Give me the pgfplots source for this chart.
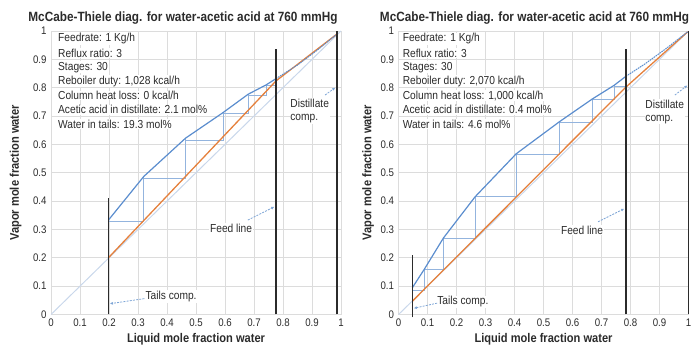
\documentclass[border=0pt]{standalone}
\usepackage{pgfplots}
\pgfplotsset{compat=1.18}
\usetikzlibrary{arrows.meta}
\usepackage{fontspec}
\setmainfont{Liberation Sans}[FakeStretch=0.88]
\definecolor{gridc}{HTML}{DCDCDC}
\definecolor{orangeop}{HTML}{E5803C}
\definecolor{eqblue}{HTML}{5B8DCE}
\definecolor{stepblue}{HTML}{93B4DE}
\definecolor{diagc}{HTML}{C9D7EB}
\definecolor{arrowc}{HTML}{7FA6D6}
\definecolor{blk}{HTML}{2B2B2B}
\pgfplotsset{
  mt/.style={
    scale only axis, width=290pt, height=283.5pt,
    xmin=0, xmax=1, ymin=0, ymax=1,
    xtick={0,0.1,...,1.01}, ytick={0,0.1,...,1.01},
    xticklabels={0,0.1,0.2,0.3,0.4,0.5,0.6,0.7,0.8,0.9,1},
    yticklabels={0,0.1,0.2,0.3,0.4,0.5,0.6,0.7,0.8,0.9,1},
    grid=major, major grid style={gridc, line width=0.7pt},
    axis line style={gridc, line width=0.7pt},
    major tick length=0pt,
    /pgf/number format/assume math mode=true,
    tick label style={font=\fontsize{11}{12}\selectfont, text=blk},
    xticklabel style={yshift=-1pt},
    yticklabel style={xshift=-1pt},
    label style={font=\fontsize{12.6}{14}\selectfont\bfseries, text=blk},
    xlabel={Liquid mole fraction water},
    ylabel={Vapor mole fraction water},
    xlabel style={at={(axis description cs:0.5,-0.087)}, anchor=center},
    title={McCabe-Thiele diag. for water-acetic acid at 760 mmHg},
    title style={font=\fontsize{13.4}{15}\selectfont\bfseries, text=blk, anchor=center},
    clip=false,
  },
}
\tikzset{
  ann/.style={anchor=west, fill=white, inner sep=0.6pt, font=\fontsize{11.6}{13}\selectfont, text=blk},
  lbl/.style={font=\fontsize{11.6}{13}\selectfont, text=blk, fill=white, inner sep=0.8pt},
  arr/.style={arrowc, line width=0.8pt, dash pattern=on 2pt off 1.2pt, -{Latex[length=3pt,width=3pt]}},
}
\begin{document}
\begin{tikzpicture}
\useasboundingbox (0,0) rectangle (700pt,352pt);
% ---------------- left chart ----------------
\begin{axis}[mt, at={(51pt,37.5pt)}, anchor=south west,
  ylabel style={at={(axis description cs:-0.122,0.5)}, anchor=center},
  title style={at={(axis description cs:0.455,1.024)}}]
\addplot[diagc, line width=1pt] coordinates {(0,0) (1,1)};
\addplot[stepblue, line width=0.9pt] coordinates {
 (0.198,0.327) (0.320,0.327) (0.320,0.487) (0.320,0.480) (0.464,0.480) (0.464,0.622)
 (0.464,0.615) (0.593,0.615) (0.593,0.712) (0.593,0.708) (0.680,0.708) (0.680,0.777)
 (0.680,0.773) (0.742,0.773) (0.742,0.810) (0.742,0.808) (0.776,0.808)};
\addplot[orangeop, line width=1.3pt] coordinates {(0.198,0.200) (0.776,0.824) (0.987,0.990)};
\addplot[eqblue, line width=1.2pt] coordinates {
 (0.198,0.333) (0.320,0.487) (0.464,0.622) (0.593,0.712) (0.680,0.777) (0.742,0.810) (0.776,0.832)};
\addplot[eqblue, line width=1.0pt, dash pattern=on 1.6pt off 0.8pt] coordinates {
 (0.776,0.832) (0.850,0.880) (0.920,0.934) (0.987,0.990)};
\addplot[blk, line width=1.6pt] coordinates {(0.198,0) (0.198,0.41)};
\addplot[blk, line width=1.6pt] coordinates {(0.776,0) (0.776,0.935)};
\addplot[blk, line width=1.6pt] coordinates {(0.987,0) (0.987,1.0)};
\node[ann] at (axis cs:0.022,0.972) {Feedrate: 1 Kg/h};
\node[ann] at (axis cs:0.022,0.922) {Reflux ratio: 3};
\node[ann] at (axis cs:0.022,0.872) {Stages: 30};
\node[ann] at (axis cs:0.022,0.822) {Reboiler duty: 1,028 kcal/h};
\node[ann] at (axis cs:0.022,0.772) {Column heat loss: 0 kcal/h};
\node[ann] at (axis cs:0.022,0.722) {Acetic acid in distillate: 2.1 mol\%};
\node[ann] at (axis cs:0.022,0.672) {Water in tails: 19.3 mol\%};
\node[lbl, anchor=west, align=left] at (axis cs:0.822,0.718) {Distillate\\comp.};
\draw[arr] (axis cs:0.945,0.774) -- (axis cs:0.980,0.800);
\node[lbl] at (axis cs:0.621,0.305) {Feed line};
\draw[arr] (axis cs:0.679,0.333) -- (axis cs:0.770,0.380);
\node[lbl] at (axis cs:0.414,0.063) {Tails comp.};
\draw[arr] (axis cs:0.322,0.056) -- (axis cs:0.203,0.038);
\end{axis}
% ---------------- right chart ----------------
\begin{axis}[mt, at={(398.5pt,37.5pt)}, anchor=south west,
  ylabel style={at={(axis description cs:-0.105,0.5)}, anchor=center},
  title style={at={(axis description cs:0.469,1.024)}}]
\addplot[diagc, line width=1pt] coordinates {(0,0) (1,1)};
\addplot[stepblue, line width=0.9pt] coordinates {
 (0.048,0.086) (0.088,0.086) (0.088,0.158) (0.155,0.158) (0.155,0.270) (0.264,0.270)
 (0.264,0.415) (0.406,0.415) (0.406,0.567) (0.406,0.565) (0.555,0.565) (0.555,0.680)
 (0.555,0.678) (0.668,0.678) (0.668,0.760) (0.668,0.757) (0.743,0.757) (0.743,0.808)
 (0.743,0.806) (0.784,0.806)};
\addplot[orangeop, line width=1.3pt] coordinates {(0.048,0.047) (0.784,0.802) (0.997,0.997)};
\addplot[eqblue, line width=1.2pt] coordinates {
 (0.048,0.095) (0.088,0.158) (0.155,0.270) (0.264,0.415) (0.406,0.567) (0.555,0.680)
 (0.668,0.760) (0.743,0.808) (0.784,0.840)};
\addplot[eqblue, line width=1.0pt, dash pattern=on 1.6pt off 0.8pt] coordinates {
 (0.784,0.840) (0.850,0.884) (0.920,0.936) (0.997,0.997)};
\addplot[blk, line width=1.6pt] coordinates {(0.048,-0.01) (0.048,0.211)};
\addplot[blk, line width=1.6pt] coordinates {(0.784,0) (0.784,0.937)};
\addplot[blk, line width=1.6pt] coordinates {(1.0,0) (1.0,1.0)};
\node[ann] at (axis cs:0.012,0.972) {Feedrate: 1 Kg/h};
\node[ann] at (axis cs:0.012,0.922) {Reflux ratio: 3};
\node[ann] at (axis cs:0.012,0.872) {Stages: 30};
\node[ann] at (axis cs:0.012,0.822) {Reboiler duty: 2,070 kcal/h};
\node[ann] at (axis cs:0.012,0.772) {Column heat loss: 1,000 kcal/h};
\node[ann] at (axis cs:0.012,0.722) {Acetic acid in distillate: 0.4 mol\%};
\node[ann] at (axis cs:0.012,0.672) {Water in tails: 4.6 mol\%};
\node[lbl, anchor=west, align=left] at (axis cs:0.848,0.715) {Distillate\\comp.};
\draw[arr] (axis cs:0.953,0.774) -- (axis cs:0.996,0.808);
\node[lbl] at (axis cs:0.633,0.298) {Feed line};
\draw[arr] (axis cs:0.688,0.327) -- (axis cs:0.778,0.373);
\node[lbl] at (axis cs:0.222,0.045) {Tails comp.};
\draw[arr] (axis cs:0.133,0.040) -- (axis cs:0.053,0.022);
\end{axis}
\end{tikzpicture}
\end{document}
